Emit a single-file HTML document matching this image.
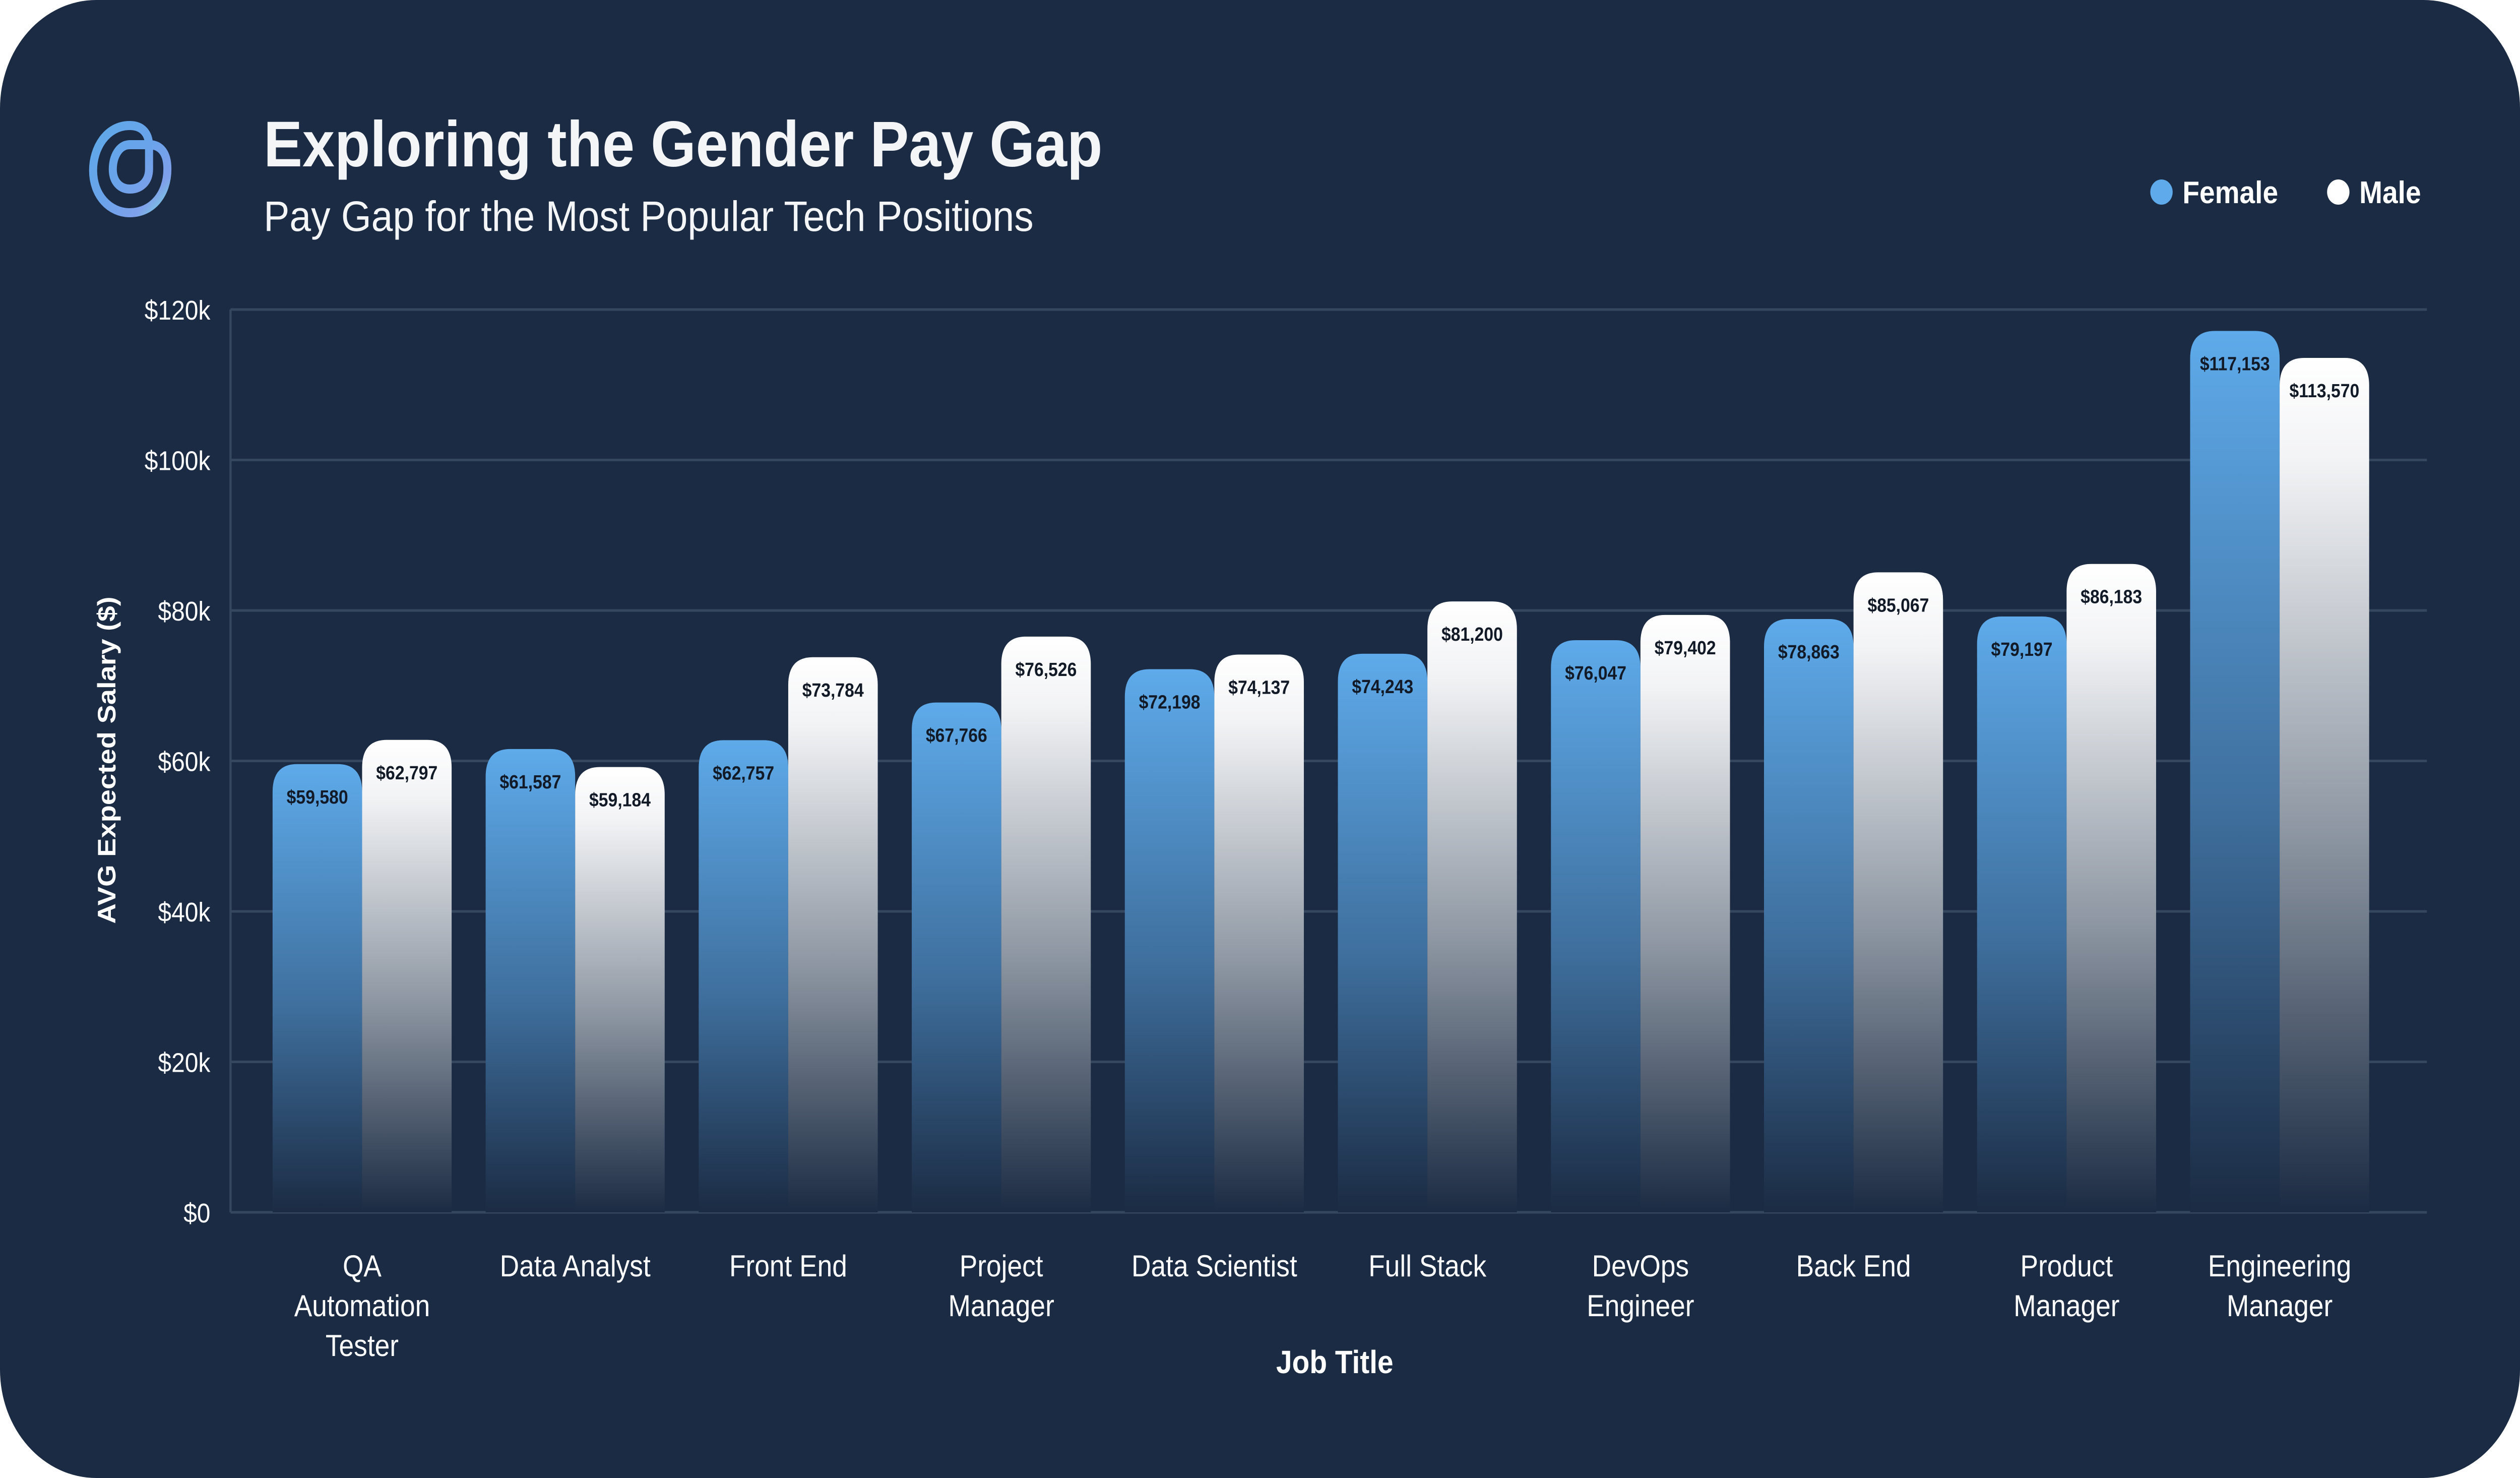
<!DOCTYPE html>
<html><head><meta charset="utf-8"><style>
html,body{margin:0;padding:0;background:#fff;width:100%;height:100%;overflow:hidden;}
svg{display:block;width:100vw;height:100vh;}
text{font-family:"Liberation Sans",sans-serif;}
</style></head><body>
<svg id="chart" viewBox="0 0 5630 2932" preserveAspectRatio="none">
<defs>
<linearGradient id="gf" x1="0" y1="0" x2="0" y2="1"><stop offset="0" stop-color="#5eaaea"/><stop offset="0.55" stop-color="#3e6e9c"/><stop offset="1" stop-color="#1b2b43"/></linearGradient>
<linearGradient id="gm" x1="0" y1="0" x2="0" y2="1"><stop offset="0" stop-color="#ffffff"/><stop offset="0.12" stop-color="#f2f3f5"/><stop offset="0.55" stop-color="#8e97a3"/><stop offset="1" stop-color="#1b2b43"/></linearGradient>
<linearGradient id="glogo" x1="0" y1="0" x2="1" y2="1"><stop offset="0" stop-color="#5ea9e8"/><stop offset="0.5" stop-color="#6aa3ea"/><stop offset="0.8" stop-color="#7fa0ea"/><stop offset="1" stop-color="#78d6df"/></linearGradient>
</defs>
<rect x="0" y="0" width="5630" height="2932" rx="215" fill="#1b2b43"/>
<g fill="none" stroke="url(#glogo)" stroke-width="18" stroke-linecap="round">
<path d="M333 335 L333 290 C333 262 315 249 290 249 C237 249 208 295 208 338 C208 388 245 422 290 422 C340 422 374 385 374 335 C374 305 360 287 333 287 L290 287 C265 287 252 312 252 336 C252 360 268 375 290 375 C315 375 333 360 333 335"/>
</g>
<text x="589" y="330" font-size="128" font-weight="bold" fill="#f4f5f7" textLength="1874" lengthAdjust="spacingAndGlyphs">Exploring the Gender Pay Gap</text>
<text x="589" y="458" font-size="84" fill="#f4f5f7" textLength="1720" lengthAdjust="spacingAndGlyphs">Pay Gap for the Most Popular Tech Positions</text>
<g>
<g><circle cx="4829" cy="381" r="25" fill="#5eaaea"/><text x="4876" y="403" font-size="62" fill="#fff" font-weight="bold">Female</text></g>
<g><circle cx="5224" cy="381" r="25" fill="#fff"/><text x="5271" y="403" font-size="62" fill="#fff" font-weight="bold">Male</text></g>
</g>
<g id="grid"></g>
<g id="bars"></g>
<g id="xlabels"></g>
<text transform="translate(258,1508) rotate(-90)" text-anchor="middle" font-size="56" font-weight="bold" fill="#fff">AVG Expected Salary ($)</text>
<text x="2982" y="2724" text-anchor="middle" font-size="64" font-weight="bold" fill="#fff">Job Title</text>
</svg>
<script>
const categories = [["QA","Automation","Tester"],["Data Analyst"],["Front End"],["Project","Manager"],["Data Scientist"],["Full Stack"],["DevOps","Engineer"],["Back End"],["Product","Manager"],["Engineering","Manager"]];
const femaleValues = [59580,61587,62757,67766,72198,74243,76047,78863,79197,117153];
const maleValues = [62797,59184,73784,76526,74137,81200,79402,85067,86183,113570];
const yTicks = [0,20000,40000,60000,80000,100000,120000];
const yTickLabels = ["$0","$20k","$40k","$60k","$80k","$100k","$120k"];

const NS="http://www.w3.org/2000/svg";
const x0=515, x1=5422, yBase=2405, yTop=614, yMax=120000;
const pitch=476, firstCenter=809, barW=200, r=55;
function yScale(v){return yBase-(v/yMax)*(yBase-yTop);}
function xCenter(i){return firstCenter+i*pitch;}
function mk(tag,attrs,parent){const e=document.createElementNS(NS,tag);for(const k in attrs)e.setAttribute(k,attrs[k]);parent.appendChild(e);return e;}
const grid=document.getElementById('grid');
yTicks.forEach((t,i)=>{
  const y=yScale(t);
  const l=mk('line',{x1:x0,x2:x1,y1:y,y2:y,stroke:'#34475f','stroke-width':5},grid);
  
  
  const tx=mk('text',{x:470,y:y+20,'text-anchor':'end','font-size':54,fill:'#fff'},grid);
  tx.textContent=yTickLabels[i];
  
  
});
const ax=mk('line',{x1:x0,x2:x0,y1:yTop,y2:yBase,stroke:'#34475f','stroke-width':5},grid);


const bars=document.getElementById('bars');
function barPath(x,y,w,h){return `M${x} ${yBase} L${x} ${y+r} Q${x} ${y} ${x+r} ${y} L${x+w-r} ${y} Q${x+w} ${y} ${x+w} ${y+r} L${x+w} ${yBase} Z`;}
function fmt(v){return '$'+v.toLocaleString('en-US');}
categories.forEach((c,i)=>{
  const cx=xCenter(i);
  [[femaleValues[i],cx-barW,'url(#gf)','female'],[maleValues[i],cx,'url(#gm)','male']].forEach(([v,x,fill,s])=>{
    const y=yScale(v);
    const p=mk('path',{d:barPath(x,y,barW,yBase-y),fill:fill},bars);
    
    
    const t=mk('text',{x:x+barW/2,y:y+78,'text-anchor':'middle','font-size':38,'font-weight':'bold',fill:'#111a26'},bars);
    t.textContent=fmt(v);
    
    
  });
  const xl=document.getElementById('xlabels');
  c.forEach((line,j)=>{
    const t=mk('text',{x:cx,y:2532+j*79,'text-anchor':'middle','font-size':60,fill:'#fff'},xl);
    t.textContent=line;
    
    
  });
});
</script>
</body></html>
